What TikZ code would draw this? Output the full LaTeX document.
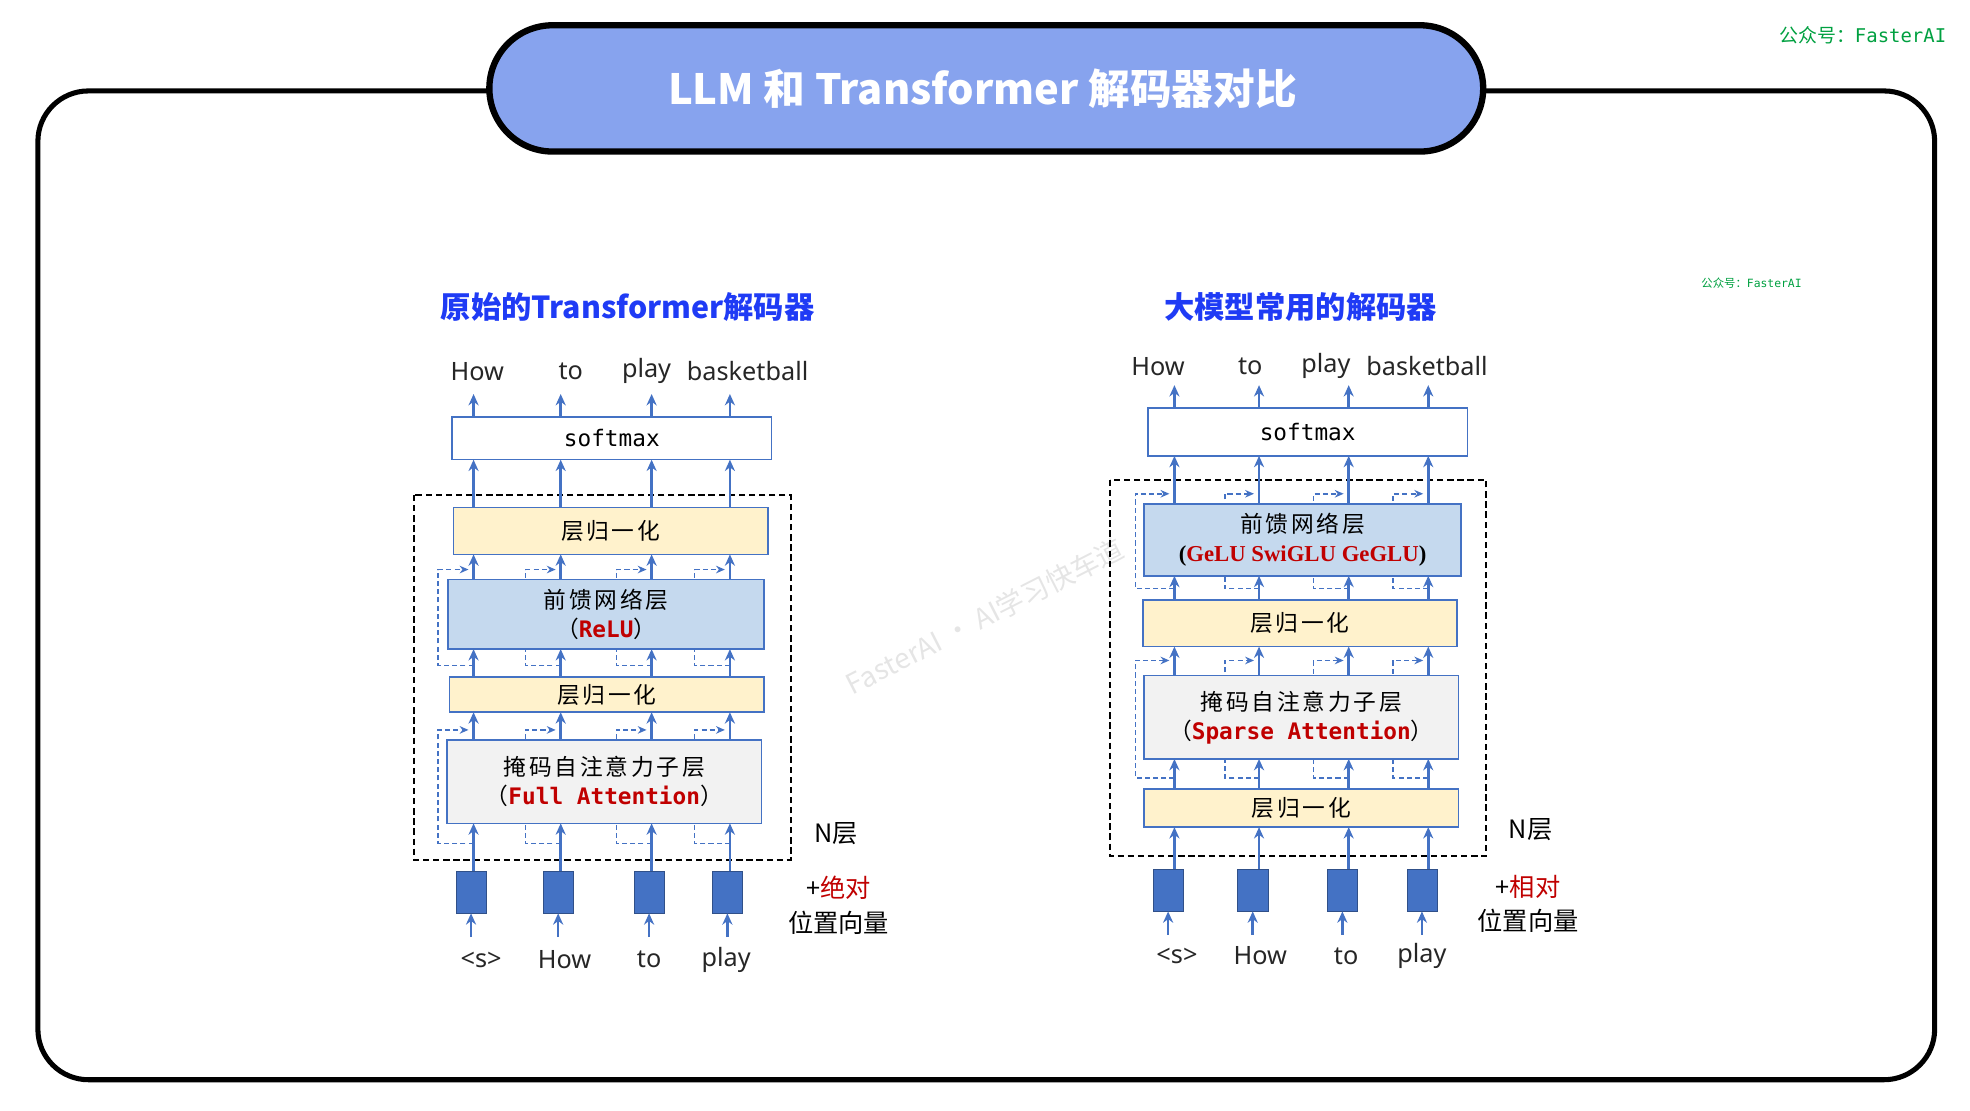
\documentclass[tikz,border=0pt]{standalone}
\usepackage{fontspec}
\setmainfont{Noto Sans}
\newfontfamily\cjk{Noto Sans CJK SC}
\newfontfamily\cjksp[LetterSpace=12]{Noto Sans CJK SC}
\newfontfamily\mono{DejaVu Sans Mono}
\newfontfamily\ser{Liberation Serif}
\usetikzlibrary{arrows.meta}
\definecolor{ablue}{HTML}{4472C4}
\definecolor{tblue}{HTML}{1F3BF5}
\definecolor{pill}{HTML}{87A3EE}
\definecolor{lnf}{HTML}{FFF2CC}
\definecolor{ffn}{HTML}{C5D9EE}
\definecolor{att}{HTML}{F2F2F2}
\definecolor{dred}{HTML}{C00000}
\definecolor{wm}{HTML}{00A040}
\begin{document}
\begin{tikzpicture}[x=1pt,y=-1pt,
  box/.style={draw=ablue,line width=1.3pt,inner sep=0pt},
  arr/.style={draw=ablue,line width=2pt,-{Stealth[length=9pt,width=8pt]}},
  res/.style={draw=ablue,line width=1.2pt,dash pattern=on 4pt off 2.5pt,-{Stealth[length=7pt,width=6pt]}},
  word/.style={font=\fontsize{20}{22}\selectfont,text=black!85},
  ctext/.style={font=\cjksp\fontsize{18}{23}\selectfont,align=center},
  sq/.style={fill=ablue,draw=ablue!70!black,minimum width=24pt,minimum height=33pt,inner sep=0pt}]
\useasboundingbox (0,0) rectangle (1560,879);
% frame
\draw[line width=4pt,rounded corners=40pt] (30,72) rectangle (1532,855);
\node[draw=black,line width=5pt,fill=pill,rounded corners=50pt,minimum width=787pt,minimum height=100pt] (title) at (781,70) {};
\node[text=white,font=\cjk\bfseries\fontsize{33}{40}\selectfont] (tt) at (778,70) {LLM 和 Transformer 解码器对比};
\node[text=wm,font=\cjk\fontsize{15}{17}\selectfont] (wm1) at (1475,28) {公众号：\mono FasterAI};
\node[text=wm,font=\cjk\fontsize{9}{10}\selectfont] (wm2) at (1387,224) {公众号：\mono FasterAI};
\node[text=black!10,rotate=27,font=\cjk\fontsize{22}{24}\selectfont] (wm3) at (780,488) {FasterAI · AI学习快车道};

% ================= LEFT =================
\node[text=tblue,font=\cjk\bfseries\fontsize{24}{28}\selectfont] (lt) at (497,243) {原始的Transformer解码器};
\foreach \n/\x/\t in {a/378/How,b/452/to,c/512/play,d/592/basketball}
  \node[word] (lw\n) at (\x,294) {\t};
\draw[dash pattern=on 5pt off 3pt,line width=1.6pt] (328,392) rectangle (626,681);
% residuals
\foreach \c/\l in {375/347,444/416,516/488,578/550}{
  \draw[res] (\c,668) -- (\l,668) -- (\l,578) -- (\c-4,578);
  \draw[res] (\c,527) -- (\l,527) -- (\l,451) -- (\c-4,451);
}
\node[box,fill=white,minimum width=253pt,minimum height=34pt] (lsm) at (484.5,347) {\mono\fontsize{18}{20}\selectfont softmax};
\node[box,fill=lnf,minimum width=249pt,minimum height=37pt,ctext] (lln2) at (483.5,420.5) {层归一化};
\node[box,fill=ffn,minimum width=250pt,minimum height=55pt,ctext] (lffn) at (480,486.5) {前馈网络层\\{\cjk（}{\mono\bfseries\color{dred}ReLU}{\cjk）}};
\node[box,fill=lnf,minimum width=249pt,minimum height=28pt,ctext] (lln1) at (480.5,550) {层归一化};
\node[box,fill=att,minimum width=249pt,minimum height=66pt,ctext] (latt) at (478.5,619) {掩码自注意力子层\\{\cjk（}{\mono\bfseries\color{dred}Full Attention}{\cjk）}};
\foreach \n/\c/\t/\tx in {a/375/<s>/381,b/444/How/447,c/516/to/514,d/578/play/575}{
  \node[sq] (lsq\n) at (\c-2,706.5) {};
  \node[word] (lin\n) at (\tx,760) {\t};
  \coordinate (lb\n) at (\c-2,742);
  \coordinate (lo\n) at (\c,312);
  \draw[arr] (lb\n) -- (lsq\n.south);
  \draw[arr] (\c,690) -- (\c,652);
  \draw[arr] (\c,586) -- (\c,564);
  \draw[arr] (\c,536) -- (\c,514);
  \draw[arr] (\c,459) -- (\c,439);
  \draw[arr] (\c,402) -- (\c,364);
  \draw[arr] (\c,330) -- (lo\n);
}
\node[font=\cjk\fontsize{20}{22}\selectfont] (ln) at (662,660) {N层};
\node[font=\cjk\bfseries\fontsize{20}{22}\selectfont] (lp) at (664,703) {\mdseries+\color{dred}绝对};
\node[font=\cjk\fontsize{20}{22}\selectfont] (lp2) at (664,731) {位置向量};

% ================= RIGHT =================
\node[text=tblue,font=\cjk\bfseries\fontsize{24}{28}\selectfont] (rt) at (1030,243) {大模型常用的解码器};
\foreach \n/\x/\t in {a/917/How,b/990/to,c/1050/play,d/1130/basketball}
  \node[word] (rw\n) at (\x,290) {\t};
\draw[dash pattern=on 5pt off 3pt,line width=1.6pt] (879,380) rectangle (1177,678);
\foreach \c/\l in {930/899,997/970,1068/1040,1131/1103}{
  \draw[res] (\c,616) -- (\l,616) -- (\l,523) -- (\c-4,523);
  \draw[res] (\c,466) -- (\l,466) -- (\l,391) -- (\c-4,391);
}
\node[box,fill=white,minimum width=253pt,minimum height=38pt] (rsm) at (1035.5,342) {\mono\fontsize{18}{20}\selectfont softmax};
\node[box,fill=ffn,minimum width=251pt,minimum height=57pt,ctext] (rffn) at (1031.5,427.5) {前馈网络层\\{\ser\bfseries (\color{dred}GeLU SwiGLU GeGLU\color{black})}};
\node[box,fill=lnf,minimum width=249pt,minimum height=37pt,ctext] (rln2) at (1029.5,493.5) {层归一化};
\node[box,fill=att,minimum width=249pt,minimum height=66pt,ctext] (ratt) at (1030.5,568) {掩码自注意力子层\\{\cjk（}{\mono\bfseries\color{dred}Sparse Attention}{\cjk）}};
\node[box,fill=lnf,minimum width=249pt,minimum height=30pt,ctext] (rln1) at (1030.5,640) {层归一化};
\foreach \n/\c/\t/\tx in {a/930/<s>/932,b/997/How/998,c/1068/to/1066,d/1131/play/1126}{
  \node[sq] (rsq\n) at (\c-5,705) {};
  \node[word] (rin\n) at (\tx,757) {\t};
  \coordinate (rb\n) at (\c-5,740);
  \coordinate (ro\n) at (\c,305);
  \draw[arr] (rb\n) -- (rsq\n.south);
  \draw[arr] (\c,688) -- (\c,655);
  \draw[arr] (\c,625) -- (\c,601);
  \draw[arr] (\c,535) -- (\c,512);
  \draw[arr] (\c,475) -- (\c,456);
  \draw[arr] (\c,399) -- (\c,361);
  \draw[arr] (\c,323) -- (ro\n);
}
\node[font=\cjk\fontsize{20}{22}\selectfont] (rn) at (1212,657) {N层};
\node[font=\cjk\bfseries\fontsize{20}{22}\selectfont] (rp) at (1210,702) {\mdseries+\color{dred}相对};
\node[font=\cjk\fontsize{20}{22}\selectfont] (rp2) at (1210,729) {位置向量};
\end{tikzpicture}
\end{document}
